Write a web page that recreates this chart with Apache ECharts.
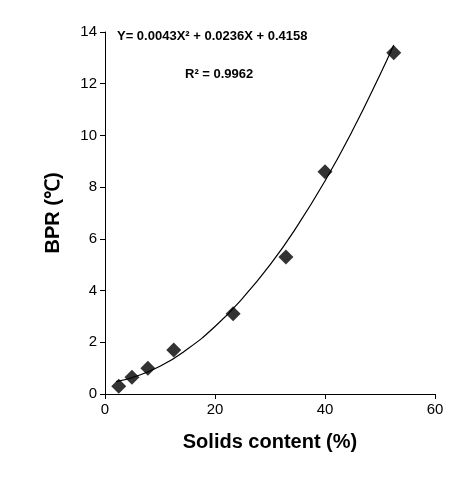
<!DOCTYPE html>
<html>
<head>
<meta charset="utf-8"/>
<script src="https://cdn.jsdelivr.net/npm/echarts@6/dist/echarts.min.js"></script>
</head>
<body style="margin:0;background:#fff">
<div id="main" style="width:474px;height:486px"></div>
<script>
// measured points
var solids = [2.5, 4.9, 7.8, 12.5, 23.3, 32.9, 40, 52.5];
var bpr = [0.3, 0.65, 1.0, 1.7, 3.1, 5.3, 8.6, 13.2];
// fitted trend line, read at a few x positions
var fitX = [2, 5, 10, 15, 20, 25, 30, 35, 40, 45, 50, 52.5];
var fitY = [0.48, 0.64, 1.07, 1.74, 2.61, 3.70, 4.99, 6.51, 8.24, 10.19, 12.35, 13.50];

var chart = echarts.init(document.getElementById('main'));
var font = 'Arial, "Liberation Sans", sans-serif';
chart.setOption({
    animation: false,
    grid: {left: 105, right: 39, top: 32, bottom: 92},
    xAxis: {
        type: 'value', min: 0, max: 60, interval: 20,
        name: 'Solids content (%)', nameLocation: 'middle', nameGap: 38,
        nameTextStyle: {fontSize: 20, fontWeight: 'bold', color: '#000', fontFamily: font},
        axisLine: {lineStyle: {color: '#000'}},
        axisTick: {lineStyle: {color: '#000'}},
        axisLabel: {fontSize: 15, color: '#000', fontFamily: font},
        splitLine: {show: false}
    },
    yAxis: {
        type: 'value', min: 0, max: 14, interval: 2,
        name: 'BPR (℃)', nameLocation: 'middle', nameGap: 42,
        nameTextStyle: {fontSize: 20, fontWeight: 'bold', color: '#000', fontFamily: font},
        axisLine: {show: true, lineStyle: {color: '#000'}},
        axisTick: {show: true, lineStyle: {color: '#000'}},
        axisLabel: {fontSize: 15, color: '#000', fontFamily: font},
        splitLine: {show: false}
    },
    graphic: [
        {type: 'text', left: 117, top: 30, style: {text: 'Y= 0.0043X² + 0.0236X + 0.4158', font: 'bold 13px ' + font, fill: '#000'}},
        {type: 'text', left: 185, top: 68, style: {text: 'R² = 0.9962', font: 'bold 13px ' + font, fill: '#000'}}
    ],
    series: [
        {
            type: 'line', smooth: true, symbol: 'none',
            lineStyle: {color: '#000', width: 1.2},
            data: fitX.map(function (x, i) { return [x, fitY[i]]; })
        },
        {
            type: 'scatter', symbol: 'diamond', symbolSize: 15,
            itemStyle: {color: '#000'},
            data: solids.map(function (x, i) { return [x, bpr[i]]; })
        }
    ]
});
</script>
</body>
</html>
